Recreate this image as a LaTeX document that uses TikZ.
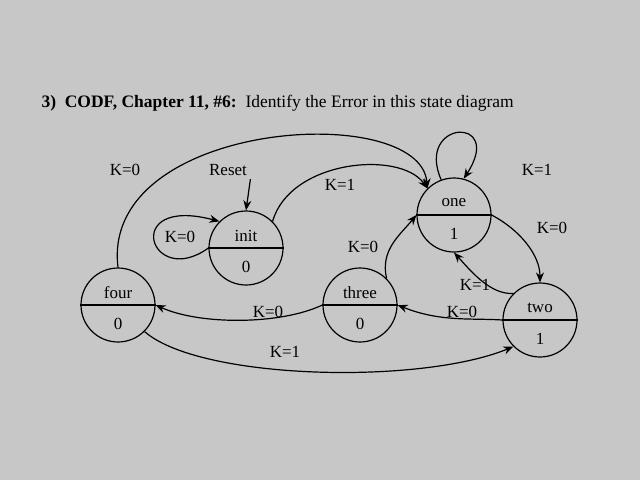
\documentclass[tikz,border=0pt]{standalone}
\usepackage{fontspec}
\setmainfont{Liberation Serif}
\usetikzlibrary{arrows.meta}
\begin{document}
\begin{tikzpicture}[x=1pt,y=-1pt,
  st/.style={circle,draw,line width=1.2pt,minimum size=74pt,inner sep=0pt},
  ed/.style={draw,line width=1.2pt,-{Stealth[length=10pt,width=8pt]}},
  lb/.style={font=\fontsize{17}{19}\selectfont}]
\useasboundingbox[fill=black!22] (0,0) rectangle (640,480);
\node[font=\bfseries\fontsize{17.5}{19}\selectfont,anchor=west] (title) at (38,103) {3)\ \ CODF, Chapter 11, \#6:\ \ \mdseries Identify the Error in this state diagram};
\foreach \n/\x/\y/\a/\b in {init/246/248/init/0, one/454/215/one/1, four/118/305/four/0, three/360/305/three/0, two/540/320/two/1}{
  \node[st] (\n) at (\x,\y) {};
  \draw[line width=1.2pt] (\n.west) -- (\n.east);
  \node[lb] (\n t) at (\x,\y-12) {\a};
  \node[lb] (\n b) at (\x,\y+19) {\b};
}
\node[lb] (reset) at (228,170) {Reset};
\draw[ed] (reset.south east) -- (init.north);
% four -> one
\draw[ed] (four.north) .. controls (100,120) and (420,100) .. (one.north west);
\node[lb] (l1) at (125,170) {K=0};
% init self loop
\draw[ed] (init.west) .. controls (150,290) and (120,195) .. (init.north west);
\node[lb] (l2) at (180,237) {K=0};
% init -> one
\draw[ed] (init.north east) .. controls (290,160) and (400,150) .. (one.north west);
\node[lb] (l3) at (340,185) {K=1};
% one self loop
\draw[ed] (one.110) .. controls (415,120) and (505,115) .. (one.75);
\node[lb] (l4) at (537,170) {K=1};
% one -> two
\draw[ed] (one.east) .. controls (520,230) and (540,255) .. (two.north);
\node[lb] (l5) at (552,228) {K=0};
% two -> one
\draw[ed] (two.north west) .. controls (490,295) and (470,270) .. (one.south);
\node[lb] (l6) at (475,285) {K=1};
% two -> three
\draw[ed] (two.west) .. controls (470,318) and (440,322) .. (three.east);
\node[lb] (l7) at (462,312) {K=0};
% three -> one
\draw[ed] (three.north east) .. controls (380,250) and (400,235) .. (one.west);
\node[lb] (l8) at (363,247) {K=0};
% three -> four
\draw[ed] (three.west) .. controls (280,325) and (200,325) .. (four.east);
\node[lb] (l9) at (268,312) {K=0};
% four -> two
\draw[ed] (four.south east) .. controls (200,380) and (420,385) .. (two.south west);
\node[lb] (l10) at (285,352) {K=1};
\end{tikzpicture}
\end{document}
